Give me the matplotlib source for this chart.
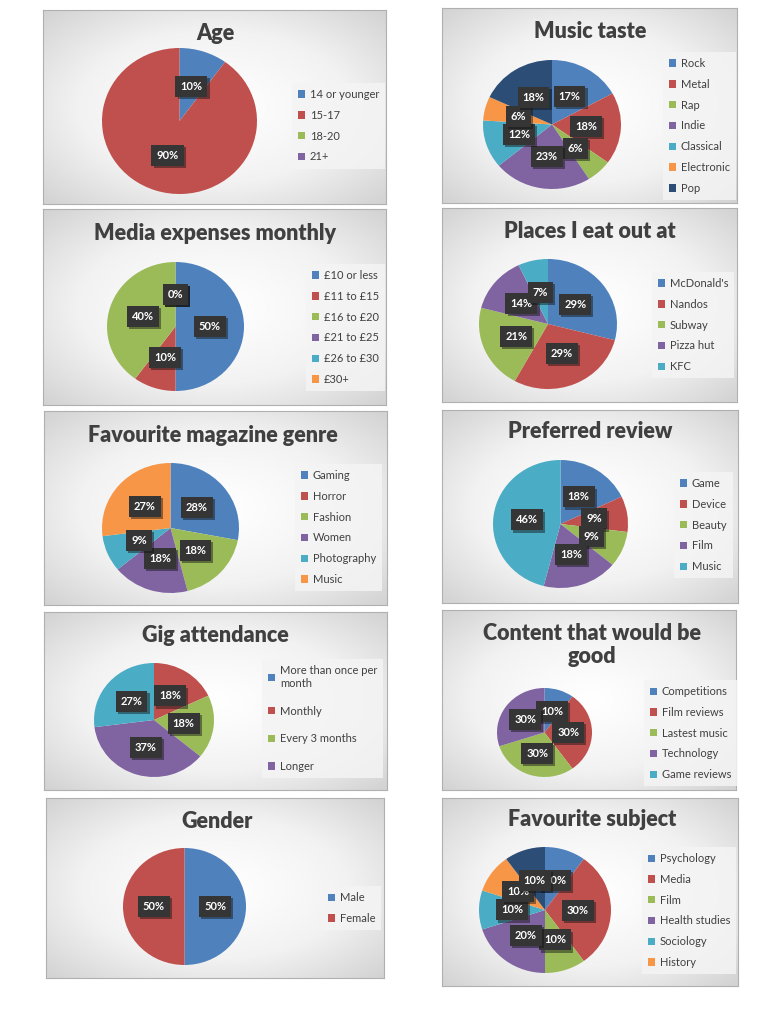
import numpy as np
import matplotlib.pyplot as plt
import matplotlib.patheffects as pe
from matplotlib.patches import Patch
from matplotlib.colors import LinearSegmentedColormap

plt.rcParams['font.family'] = ['Lato', 'DejaVu Sans']

W, H = 768, 1024

# ─── colours (Excel 2010 palette) ─────────────────────────────────────
PALETTE = ['#4F81BD', '#C0504D', '#9BBB59', '#8064A2', '#4BACC6', '#F79646', '#2C4D75']
TXT = '#404040'

# ─── data ─────────────────────────────────────────────────────────────
age_labels = ['14 or younger', '15-17', '18-20', '21+']
age_values = [10, 90, 0, 0]

music_labels = ['Rock', 'Metal', 'Rap', 'Indie', 'Classical', 'Electronic', 'Pop']
music_values = [17, 18, 6, 23, 12, 6, 18]

media_labels = ['£10 or less', '£11 to £15', '£16 to £20', '£21 to £25', '£26 to £30', '£30+']
media_values = [50, 10, 40, 0, 0, 0]

eat_labels = ["McDonald's", 'Nandos', 'Subway', 'Pizza hut', 'KFC']
eat_values = [29, 29, 21, 14, 7]

magazine_labels = ['Gaming', 'Horror', 'Fashion', 'Women', 'Photography', 'Music']
magazine_values = [28, 0, 18, 18, 9, 27]

review_labels = ['Game', 'Device', 'Beauty', 'Film', 'Music']
review_values = [18, 9, 9, 18, 46]

gig_labels = ['More than once per\nmonth', 'Monthly', 'Every 3 months', 'Longer']
gig_values = [0, 18, 18, 37, 27]

content_labels = ['Competitions', 'Film reviews', 'Lastest music', 'Technology', 'Game reviews']
content_values = [10, 30, 30, 30, 0]

gender_labels = ['Male', 'Female']
gender_values = [50, 50]

subject_labels = ['Psychology', 'Media', 'Film', 'Health studies', 'Sociology', 'History']
subject_values = [10, 30, 10, 20, 10, 10, 10]

# ─── layout (pixels): panel box, title centre, pie box, legend top-left ─
CHARTS = [
    dict(title='Age', labels=age_labels, values=age_values, zero=False,
         panel=(43, 10, 386, 204), tpos=(215, 33), pie=(102, 48, 257, 194),
         leg=(292, 83), ls=0.88),
    dict(title='Music taste', labels=music_labels, values=music_values, zero=False,
         panel=(442, 8, 737, 203), tpos=(590, 32), pie=(483, 60, 621, 189),
         leg=(663, 52), ls=0.88),
    dict(title='Media expenses monthly', labels=media_labels, values=media_values, zero=True,
         panel=(43, 209, 386, 405), tpos=(215, 234), pie=(107, 262, 244, 391),
         leg=(306, 264), ls=0.88),
    dict(title='Places I eat out at', labels=eat_labels, values=eat_values, zero=False,
         panel=(442, 208, 737, 402), tpos=(590, 232), pie=(479, 259, 617, 389),
         leg=(652, 272), ls=0.88),
    dict(title='Favourite magazine genre', labels=magazine_labels, values=magazine_values, zero=False,
         panel=(44, 411, 387, 605), tpos=(213, 436), pie=(102, 463, 239, 593),
         leg=(295, 464), ls=0.88),
    dict(title='Preferred review', labels=review_labels, values=review_values, zero=False,
         panel=(442, 410, 738, 603), tpos=(590, 432), pie=(493, 460, 628, 588),
         leg=(674, 472), ls=0.88),
    dict(title='Gig attendance', labels=gig_labels, values=gig_values, zero=False,
         panel=(44, 612, 387, 790), tpos=(215, 636), pie=(94, 663, 214, 777),
         leg=(262, 659), ls=1.5),
    dict(title='Content that would be\ngood', labels=content_labels, values=content_values, zero=False,
         panel=(442, 610, 736, 790), tpos=(592, 645), pie=(497, 688, 592, 777),
         leg=(644, 680), ls=0.88),
    dict(title='Gender', labels=gender_labels, values=gender_values, zero=False,
         panel=(46, 798, 384, 978), tpos=(217, 822), pie=(123, 848, 246, 965),
         leg=(322, 886), ls=0.88),
    dict(title='Favourite subject', labels=subject_labels, values=subject_values, zero=False,
         panel=(442, 798, 738, 986), tpos=(592, 820), pie=(479, 847, 611, 973),
         leg=(642, 847), ls=0.88),
]


def fx(x):
    return x / W


def fy(y):
    return 1 - y / H


def rect(box):
    x0, y0, x1, y1 = box
    return [fx(x0), fy(y1), (x1 - x0) / W, (y1 - y0) / H]


fig = plt.figure(figsize=(W / 100, H / 100), dpi=100)
fig.patch.set_facecolor('white')

bg_cmap = LinearSegmentedColormap.from_list('bg', ['#FFFFFF', '#F2F2F2', '#D2D2D2'])
yy, xx = np.mgrid[-1:1:200j, -1:1:200j]
grad = np.clip(np.sqrt(xx ** 2 + yy ** 2) / np.sqrt(2), 0, 1) ** 1.2

for c in CHARTS:
    # panel background with radial gradient
    bg = fig.add_axes(rect(c['panel']))
    bg.imshow(grad, cmap=bg_cmap, extent=[0, 1, 0, 1], aspect='auto', vmin=0, vmax=1)
    bg.set_xticks([]); bg.set_yticks([])
    for s in bg.spines.values():
        s.set_color('#B0B0B0'); s.set_linewidth(0.8)

    fig.text(fx(c['tpos'][0]), fy(c['tpos'][1]), c['title'], ha='center', va='center',
             fontsize=15.5, fontweight='heavy', color=TXT, linespacing=1.15)

    # pie
    ax = fig.add_axes(rect(c['pie']))
    show_zero = c['zero']
    wedges, _, autos = ax.pie(
        c['values'], colors=PALETTE[:len(c['values'])], startangle=90, counterclock=False,
        autopct=lambda p, z=show_zero: (f'{p:.0f}%' if (p > 0.5 or z) else ''),
        pctdistance=0.5, wedgeprops=dict(linewidth=0),
        textprops=dict(color='white', fontsize=8, fontweight='bold'))
    ax.set_aspect('auto')
    ax.set_xlim(-1, 1); ax.set_ylim(-1, 1)
    ax.axis('off')
    for t in autos:
        t.set_bbox(dict(boxstyle='square,pad=0.45', fc='#353535', ec='none'))
        t.get_bbox_patch().set_path_effects(
            [pe.SimplePatchShadow(offset=(1.5, -1.5), alpha=0.45), pe.Normal()])

    # legend
    n = len(c['labels'])
    handles = [Patch(facecolor=PALETTE[i], edgecolor='none') for i in range(n)]
    lx, ly = c['leg']
    fig.legend(handles, c['labels'], loc='upper left', bbox_to_anchor=(fx(lx), fy(ly)),
               frameon=True, fancybox=False, facecolor='#F4F4F4', edgecolor='none',
               framealpha=0.85, fontsize=8, labelcolor=TXT, handlelength=0.65,
               handleheight=0.65, handletextpad=0.4, labelspacing=c['ls'],
               borderpad=0.55, borderaxespad=0)

fig.savefig('out.png', dpi=100)
